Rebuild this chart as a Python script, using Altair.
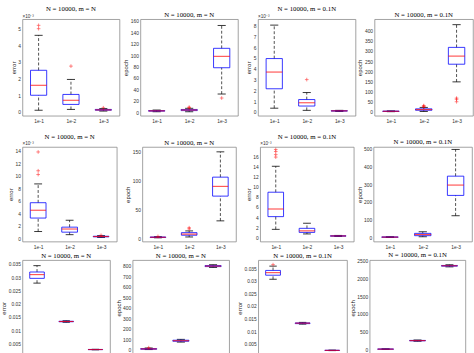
import json
import altair as alt
import pandas as pd

CATS = ["1e-1", "1e-2", "1e-3"]
POS = [1, 2, 3]
STAT_COLS = ["lo", "q1", "med", "q3", "hi"]

# ---- box statistics per panel: [lower whisker, Q1, median, Q3, upper whisker]
# error panels in rows 1-2 are expressed in units of 1e-3 (as on the axis)
r1c1_box = [[0.10, 1.00, 1.60, 2.50, 4.60], [0.15, 0.45, 0.70, 1.05, 1.95], [0.05, 0.10, 0.12, 0.15, 0.20]]
r1c1_out = [[1, 5.00], [1, 5.20], [2, 2.75], [3, 0.25]]
r1c2_box = [[1, 2, 2.5, 3, 4], [1, 3, 4, 5, 7], [32, 78, 98, 112, 152]]
r1c2_out = [[2, 8], [2, 9], [3, 25]]
r1c3_box = [[0.35, 2.15, 3.70, 4.95, 8.05], [0.15, 0.55, 0.85, 1.15, 1.80], [0.05, 0.08, 0.10, 0.12, 0.15]]
r1c3_out = [[2, 3.0]]
r1c4_box = [[1, 2, 3, 4, 5], [2, 8, 11, 15, 22], [148, 235, 275, 318, 430]]
r1c4_out = [[2, 25], [2, 28], [2, 31], [3, 68], [3, 62], [3, 50]]

r2c1_box = [[1.1, 3.25, 4.5, 5.7, 8.7], [0.6, 1.0, 1.5, 1.8, 2.9], [0.15, 0.25, 0.30, 0.35, 0.45]]
r2c1_out = [[1, 10.2], [1, 10.8], [1, 13.8], [3, 0.5]]
r2c2_box = [[0.5, 1, 1.5, 2, 2.5], [2, 5, 7, 9.5, 12.5], [30, 73, 90, 106, 150]]
r2c2_out = [[1, 3], [2, 16], [2, 18]]
r2c3_box = [[1.6, 4.1, 5.6, 8.9, 14.0], [0.7, 1.0, 1.3, 1.8, 2.8], [0.2, 0.25, 0.3, 0.35, 0.4]]
r2c3_out = [[1, 15.8], [1, 16.3], [1, 16.9], [1, 17.3]]
r2c4_box = [[1, 2, 3, 4, 5], [5, 11, 17, 24, 33], [123, 237, 295, 345, 495]]
r2c4_out = []

r3c1_box = [[0.0278, 0.0296, 0.0310, 0.0320, 0.0344], [0.0130, 0.0132, 0.0133, 0.0134, 0.0136],
            [0.0026, 0.00268, 0.0027, 0.00275, 0.0028]]
r3c1_out = []
r3c2_box = [[1, 4, 7, 10, 16], [72, 80, 85, 90, 98], [782, 790, 795, 800, 808]]
r3c2_out = [[1, 19]]
r3c3_box = [[0.0306, 0.0322, 0.0332, 0.0341, 0.0358], [0.0128, 0.0130, 0.0132, 0.0133, 0.0135],
            [0.0023, 0.00235, 0.0024, 0.00245, 0.0025]]
r3c3_out = [[1, 0.0364]]
r3c4_box = [[1, 3, 5, 8, 12], [228, 240, 246, 252, 264], [2335, 2355, 2365, 2375, 2395]]
r3c4_out = []

# ---- axes
r1_dom = [[-0.23, 5.57], [-6, 163], [-0.35, 8.6], [-19, 457]]
r2_dom = [[-0.5, 14.6], [-6, 158.5], [-0.8, 17.8], [-22, 509]]
r3_dom = [[0.0004, 0.0365], [-57, 852], [0.0003, 0.0382], [-180, 2527]]

r1c1_ticks = [0, 1, 2, 3, 4, 5]
r1c2_ticks = [0, 20, 40, 60, 80, 100, 120, 140, 160]
r1c3_ticks = [0, 1, 2, 3, 4, 5, 6, 7, 8]
r1c4_ticks = [0, 50, 100, 150, 200, 250, 300, 350, 400]
r2c1_ticks = [0, 2, 4, 6, 8, 10, 12, 14]
r2c2_ticks = [0, 50, 100, 150]
r2c3_ticks = [0, 2, 4, 6, 8, 10, 12, 14, 16]
r2c4_ticks = [0, 100, 200, 300, 400, 500]
r3c1_ticks = [0.005, 0.01, 0.015, 0.02, 0.025, 0.03, 0.035]
r3c2_ticks = [0, 100, 200, 300, 400, 500, 600, 700, 800]
r3c3_ticks = [0.005, 0.01, 0.015, 0.02, 0.025, 0.03, 0.035]
r3c4_ticks = [0, 500, 1000, 1500, 2000, 2500]

TITLES = ["N = 10000, m = N", "N = 10000, m = N", "N = 10000, m = 0.1N", "N = 10000, m = 0.1N"]
Y_TITLES = ["error", "epoch", "error", "epoch"]
EXP_TEXT = "\u00d710\u207b\u00b3"

# ---- layout / style
FRAME_L = [[12, 132, 251, 368], [20, 136, 255, 363], [25, 133, 260, 365]]
FRAME_R = [112, 232, 351, 470]
ROW_H = [99, 97, 98]
SPACE_12 = 8
SPACE_23 = 0
LABEL_FS = 5
Y_LABEL_PAD = 2
Y_TITLE_PAD = 1.5
Y_TITLE_FS = 6.2
TITLE_FS = 7
SANS = "Liberation Sans"
SERIF = "Liberation Serif"

X_LABEL_EXPR = json.dumps(CATS) + "[datum.value - 1]"


def label_width(ticks):
    w = 0
    for v in ticks:
        s = f"{v:g}"
        cw = sum(0.278 if ch == "." else 0.333 if ch == "-" else 0.556 for ch in s)
        w = max(w, cw * LABEL_FS)
    return w


def axis_extent(ticks):
    return Y_LABEL_PAD + label_width(ticks) + Y_TITLE_PAD + Y_TITLE_FS


def tick_format(ticks):
    return "d" if all(float(v).is_integer() for v in ticks) else ".3~f"


def panel(box, outs, dom, ticks, ytitle, title, w, h, exponent):
    df = pd.DataFrame(box, columns=STAT_COLS)
    df["pos"] = POS
    df["cat"] = CATS
    odf = pd.DataFrame(outs, columns=["pos", "val"])

    xs = alt.Scale(domain=[0.5, 3.5], nice=False, zero=False)
    ys = alt.Scale(domain=dom, nice=False, zero=False)
    xax = alt.Axis(values=POS, labelExpr=X_LABEL_EXPR, title=None, labelPadding=3,
                   labelAngle=0)
    yax = alt.Axis(values=ticks, title=ytitle, format=tick_format(ticks),
                   labelPadding=Y_LABEL_PAD, titlePadding=Y_TITLE_PAD)

    def X(f):
        return alt.X(f, type="quantitative", scale=xs, axis=xax)

    def Y(f):
        return alt.Y(f, type="quantitative", scale=ys, axis=yax)

    base = alt.Chart(df).transform_calculate(
        xl="datum.pos - 0.25", xr="datum.pos + 0.25",
        cl="datum.pos - 0.125", cr="datum.pos + 0.125")

    whisk_lo = base.mark_rule(color="black", strokeWidth=0.7, strokeDash=[3, 2]).encode(
        x=X("pos"), y=Y("lo"), y2="q1:Q")
    whisk_hi = base.mark_rule(color="black", strokeWidth=0.7, strokeDash=[3, 2]).encode(
        x=X("pos"), y=Y("q3"), y2="hi:Q")
    cap_lo = base.mark_rule(color="black", strokeWidth=0.8).encode(x=X("cl"), x2="cr:Q", y=Y("lo"))
    cap_hi = base.mark_rule(color="black", strokeWidth=0.8).encode(x=X("cl"), x2="cr:Q", y=Y("hi"))
    rect = base.mark_rect(fillOpacity=0, stroke="#0000ff", strokeWidth=0.8).encode(
        x=X("xl"), x2="xr:Q", y=Y("q1"), y2="q3:Q")
    med = base.mark_rule(color="#ff0000", strokeWidth=0.8).encode(x=X("xl"), x2="xr:Q", y=Y("med"))
    pts = alt.Chart(odf).mark_point(shape="M-1,0L1,0M0,-1L0,1", filled=False, color="#ff0000",
                                    size=14, strokeWidth=0.7).encode(x=X("pos"), y=Y("val"))
    layers = [whisk_lo, whisk_hi, cap_lo, cap_hi, rect, med, pts]
    if exponent:
        tdf = pd.DataFrame({"t": [EXP_TEXT]})
        layers.append(alt.Chart(tdf).mark_text(align="left", baseline="bottom", fontSize=4.8,
                                              font=SANS, color="#333").encode(
            text="t:N", x=alt.value(0), y=alt.value(-0.5)))
    return alt.layer(*layers).properties(
        width=w, height=h,
        title=alt.TitleParams(title, font=SERIF, fontSize=TITLE_FS, fontWeight="normal",
                              offset=1.5, color="black", anchor="middle"))


rows_data = [
    [(r1c1_box, r1c1_out, r1c1_ticks), (r1c2_box, r1c2_out, r1c2_ticks),
     (r1c3_box, r1c3_out, r1c3_ticks), (r1c4_box, r1c4_out, r1c4_ticks)],
    [(r2c1_box, r2c1_out, r2c1_ticks), (r2c2_box, r2c2_out, r2c2_ticks),
     (r2c3_box, r2c3_out, r2c3_ticks), (r2c4_box, r2c4_out, r2c4_ticks)],
    [(r3c1_box, r3c1_out, r3c1_ticks), (r3c2_box, r3c2_out, r3c2_ticks),
     (r3c3_box, r3c3_out, r3c3_ticks), (r3c4_box, r3c4_out, r3c4_ticks)],
]
doms = [r1_dom, r2_dom, r3_dom]

rows = []
for r in range(3):
    row = None
    prev_r = 0
    for c in range(4):
        box, outs, ticks = rows_data[r][c]
        A = axis_extent(ticks)
        if c == 0:
            left = A
            s = 0
        else:
            s = max(0, FRAME_L[r][c] - prev_r - A)
            left = prev_r + s + A
        w = FRAME_R[c] - left
        exponent = (r < 2 and Y_TITLES[c] == "error")
        p = panel(box, outs, doms[r][c], ticks, Y_TITLES[c], TITLES[c], w, ROW_H[r], exponent)
        row = p if row is None else alt.hconcat(row, p, spacing=s)
        prev_r = FRAME_R[c]
    rows.append(row)

chart = alt.vconcat(rows[0], alt.vconcat(rows[1], rows[2], spacing=SPACE_23),
                    spacing=SPACE_12).properties(
    padding={"left": 0, "top": 0, "right": 0, "bottom": 0}
).configure_axis(
    labelFont=SANS, labelFontSize=LABEL_FS, labelColor="#333",
    titleFont=SANS, titleFontSize=Y_TITLE_FS, titleFontWeight="normal", titleColor="#222",
    domain=False, ticks=False, grid=False
).configure_view(stroke="#888", strokeWidth=0.8)

chart.save("out.html", embed_options={"renderer": "svg", "actions": False})
